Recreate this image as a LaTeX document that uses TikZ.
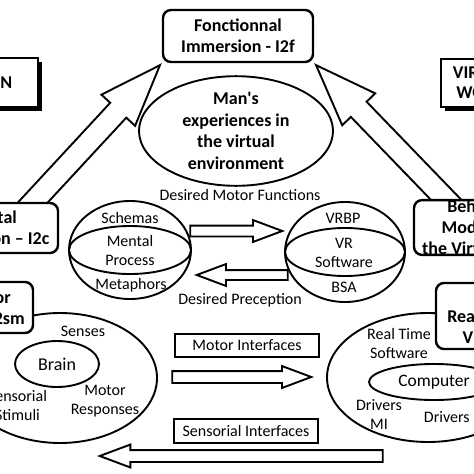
\documentclass[tikz,border=0pt]{standalone}
\usepackage{fontspec}
\setmainfont{Carlito}
\usetikzlibrary{shapes.geometric, shapes.arrows, shadows, positioning}

\begin{document}
\begin{tikzpicture}[x=1pt, y=-1pt, line width=1.9pt,
    level/.style={draw, line width=2.4pt, rounded corners=8pt, fill=white, align=center,
        inner sep=0pt, font=\fontsize{18}{21}\selectfont\bfseries},
    world/.style={draw, line width=2pt, fill=white, align=center, inner sep=0pt,
        font=\fontsize{18}{20}\selectfont\bfseries,
        drop shadow={shadow xshift=4pt, shadow yshift=-4pt, fill=black, opacity=1}},
    zone/.style={draw, ellipse, inner sep=0pt},
    iface/.style={draw, line width=2pt, inner sep=0pt, font=\fontsize{16}{19}\selectfont},
    txt/.style={align=center, inner sep=0pt, font=\fontsize{16}{19}\selectfont},
    flow/.style={draw, fill=white, single arrow, inner sep=0pt, single arrow tip angle=41},
]
\useasboundingbox (0,0) rectangle (474,474);
\clip (0,0) rectangle (474,474);

% top level and the two worlds
\node[level, minimum width=150pt, minimum height=52pt] (i2f) at (238,36) {Fonctionnal\\Immersion - I2f};
\node[world, minimum width=90pt, minimum height=49pt] (man) at (-7,82.5) {MAN};
\node[world, minimum width=88pt, minimum height=48pt] (vw) at (485,83) {VIRTUAL\\WORLD};

% big arrows up to I2f
\node[flow, minimum height=200pt, text height=10pt, text depth=10pt, single arrow head extend=12pt,
    rotate=47.2, anchor=tip] (upleft) at (i2f.south west) {};
\node[flow, minimum height=200pt, text height=10pt, text depth=10pt, single arrow head extend=12pt,
    rotate=134, anchor=tip] (upright) at (i2f.south east) {};

\node[zone, minimum width=194pt, minimum height=102pt, align=center,
    font=\fontsize{18}{21.7}\selectfont\bfseries] (exper) at (236,131)
    {Man\textquotesingle s\\experiences in\\the virtual\\environment};

% side levels
\node[level, minimum width=136pt, minimum height=50pt] (i2c) at (-10,228) {Mental\\Immersion -- I2c};
\node[level, minimum width=146pt, minimum height=51pt] (behav) at (487,227.5) {Behavioral\\Modeling of\\the Virtual World};

% mental bubbles
\node[zone, minimum width=122pt, minimum height=98pt] (mind) at (130,250) {};
\node[zone, minimum width=122pt, minimum height=48pt] (mindcore) at (mind) {};
\node[txt] (schemas) at (130,218) {Schemas};
\node[txt] (process) at (130,250.5) {Mental\\Process};
\node[txt] (metaph) at (131,285) {Metaphors};

\node[zone, minimum width=120pt, minimum height=100pt] (soft) at (345,252) {};
\node[zone, minimum width=120pt, minimum height=48pt] (softcore) at (soft) {};
\node[txt] (vrbp) at (343,218) {VRBP};
\node[txt] (vrsoft) at (344,252.5) {VR\\Software};
\node[txt] (bsa) at (344,287) {BSA};

\node[flow, minimum height=92pt, text height=4.5pt, text depth=4.5pt, single arrow head extend=5.5pt,
    anchor=tip] (wantmove) at (285,231) {};
\node[flow, minimum height=91pt, text height=4pt, text depth=4pt, single arrow head extend=6pt,
    rotate=180, anchor=tip] (wantfeel) at (194,275) {};
\node[txt] (motorlbl) at (240,195) {Desired Motor Functions};
\node[txt] (percelbl) at (240,300) {Desired Preception};

% sensorimotor level
\node[zone, minimum width=194pt, minimum height=130pt] (human) at (60,378) {};
\node[zone, minimum width=84pt, minimum height=46pt, font=\fontsize{18}{21}\selectfont] (brain) at (57,364) {Brain};
\node[txt] (senses) at (83,331) {Senses};
\node[txt] (stimuli) at (17.5,405) {Sensorial\\Stimuli};
\node[txt] (responses) at (105,401) {Motor\\Responses};
\node[level, minimum width=146pt, minimum height=51pt] (i2sm) at (-40,307.5) {Sensorimotor\\Immersion - I2sm};

\node[zone, minimum width=202pt, minimum height=129pt] (machine) at (428,377.5) {};
\node[zone, minimum width=130pt, minimum height=36pt, font=\fontsize{17.5}{21}\selectfont] (comp) at (434,382) {Computer};
\node[txt] (rtsoft) at (399,343) {Real Time\\Software};
\node[txt] (drvmi) at (379,414.5) {Drivers\\MI};
\node[txt, anchor=west] (drvsi) at (423,417) {Drivers SI};
\node[level, minimum width=74pt, minimum height=66pt,
    label={[yshift=-11pt, align=center, font=\fontsize{18}{21}\selectfont\bfseries]center:Reality\\VR}] (real) at (473,316) {};

% interfaces
\node[iface, minimum width=144pt, minimum height=23pt] (motorif) at (247,345.5) {Motor Interfaces};
\node[flow, minimum height=139pt, text height=5pt, text depth=5pt, single arrow head extend=5pt,
    anchor=tip] (motorflow) at (314,377) {};
\node[iface, minimum width=144pt, minimum height=24pt] (sensif) at (246,431) {Sensorial Interfaces};
\node[flow, minimum height=283pt, text height=5pt, text depth=5pt, single arrow head extend=5.5pt,
    rotate=180, anchor=tip] (sensflow) at (97,456) {};
\end{tikzpicture}
\end{document}
